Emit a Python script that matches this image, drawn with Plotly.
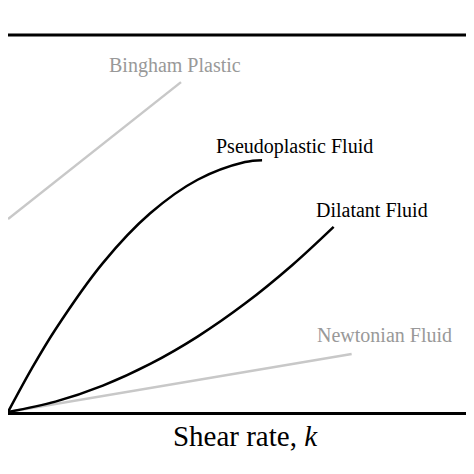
import plotly.graph_objects as go

bingham_x = [0, 3.65]
bingham_y = [5.12, 8.75]
pseudo_x = [0, 0.5, 1, 2, 3, 4, 5, 5.36]
pseudo_y = [0, 1.15, 2.19, 3.95, 5.27, 6.16, 6.63, 6.68]
dil_x = [0, 1, 2, 3, 4, 5, 6, 6.87]
dil_y = [0, 0.275, 0.70, 1.275, 2.0, 2.875, 3.9, 4.91]
newt_x = [0, 7.25]
newt_y = [0, 1.54]

F = "Liberation Serif"
fig = go.Figure()
fig.add_trace(go.Scatter(x=bingham_x, y=bingham_y, mode="lines", line=dict(color="#c8c8c8", width=2.5)))
fig.add_trace(go.Scatter(x=newt_x, y=newt_y, mode="lines", line=dict(color="#c8c8c8", width=2.5)))
fig.add_trace(go.Scatter(x=pseudo_x, y=pseudo_y, mode="lines", line=dict(color="black", width=2.5, shape="spline")))
fig.add_trace(go.Scatter(x=dil_x, y=dil_y, mode="lines", line=dict(color="black", width=2.5, shape="spline")))

ann = [("Bingham Plastic", 3.52, 9.18, "#999999"),
       ("Pseudoplastic Fluid", 6.05, 7.03, "black"),
       ("Dilatant Fluid", 7.68, 5.36, "black"),
       ("Newtonian Fluid", 7.94, 2.04, "#999999")]
for t, x, y, c in ann:
    fig.add_annotation(x=x, y=y, text=t, showarrow=False, font=dict(family=F, size=20, color=c))

fig.add_shape(type="line", xref="paper", yref="paper", x0=0, x1=1, y0=1, y1=1, line=dict(color="black", width=3))
fig.update_xaxes(range=[0, 10], showline=True, linecolor="black", linewidth=3, showgrid=False,
                 zeroline=False, showticklabels=False, ticks="",
                 title=dict(text="Shear rate, <i>k</i>", font=dict(family=F, size=29, color="black"), standoff=12))
fig.update_yaxes(range=[0, 10], showline=True, linecolor="black", linewidth=3, showgrid=False,
                 zeroline=False, showticklabels=False, ticks="")
fig.update_layout(width=474, height=474, margin=dict(l=0, r=0, t=27, b=70),
                  plot_bgcolor="white", paper_bgcolor="white", showlegend=False)
fig.write_html("out.html")
